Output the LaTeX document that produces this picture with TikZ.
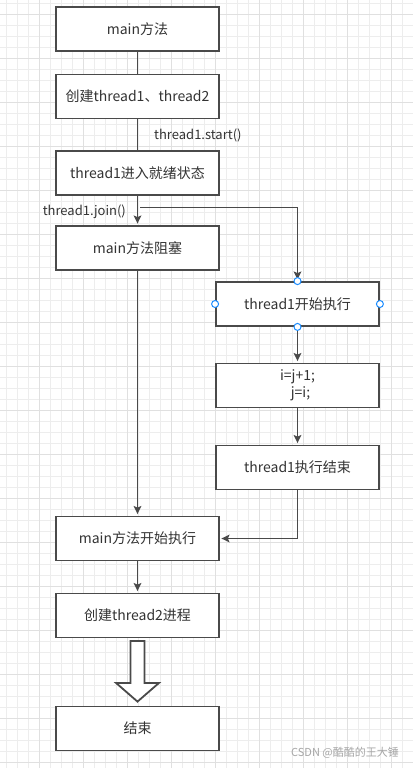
\documentclass[tikz,border=0pt]{standalone}
\usepackage{fontspec}
\setmainfont{Noto Sans CJK SC}
\usetikzlibrary{positioning,arrows.meta,calc}
\definecolor{linegray}{HTML}{4A4A4A}
\definecolor{textgray}{HTML}{333333}
\definecolor{handleblue}{HTML}{1A8CFF}
\tikzstyle{grid_minor}=[draw=black!7, line width=0.6pt]
\tikzstyle{grid_major}=[draw=black!12, line width=0.8pt]
\tikzstyle{step_box}=[rectangle, draw=linegray, line width=1.8pt, fill=white, minimum width=163pt, minimum height=44pt, inner sep=2pt, text=textgray, font=\fontsize{14}{17}\selectfont]
\tikzstyle{link}=[draw=linegray, line width=1.8pt]
\tikzstyle{flow}=[link, -{Stealth[length=8pt,width=7.5pt,inset=1.5pt]}, shorten >=1.5pt]
\tikzstyle{call_label}=[text=textgray, inner sep=0pt, font=\fontsize{13}{15}\selectfont]
\tikzstyle{handle}=[circle, draw=handleblue, fill=white, line width=1pt, inner sep=0pt, minimum size=7pt]

\begin{document}
\begin{tikzpicture}[%
    x=1pt,
    y=-1pt
  ]
      \useasboundingbox (0,0) rectangle (413,768);
      %Grid
      \fill[white] (0,0) rectangle (413,768);
      \foreach \gx in {6.5,17.5,...,413} \draw[grid_minor] (\gx,0) -- (\gx,768);
      \foreach \gy in {3,14,...,768} \draw[grid_minor] (0,\gy) -- (413,\gy);
      \foreach \gx in {39.5,83.5,...,413} \draw[grid_major] (\gx,0) -- (\gx,768);
      \foreach \gy in {14,58,...,768} \draw[grid_major] (0,\gy) -- (413,\gy);

      %main thread
      \draw (137.5,29) node[step_box] (main) {main方法};
      \draw (137.5,96.5) node[step_box] (create) {创建thread1、thread2};
      \draw (137.5,173) node[step_box] (ready) {thread1进入就绪状态};
      \draw (137.5,248) node[step_box] (block) {main方法阻塞};

      %thread1
      \draw (297.5,304) node[step_box] (run1) {thread1开始执行};
      \draw (297.5,385.5) node[step_box, align=center] (calc) {i=j+1;\\\hspace*{6pt}j=i;};
      \draw (297.5,467.5) node[step_box] (end1) {thread1执行结束};

      %main again
      \draw (137.5,538.5) node[step_box] (resume) {main方法开始执行};
      \draw (137.5,615.5) node[step_box] (create2) {创建thread2进程};
      \draw (137.5,728.5) node[step_box] (finish) {结束};

      %Labels
      \node[call_label, anchor=west] (startlbl) at (154,135) {thread1.start()};
      \node[call_label, anchor=east] (joinlbl) at (126,212) {thread1.join()};

      %Connectors
      \coordinate (fork) at (140,207.5);
      \draw[link] (main) -- (create);
      \draw[link] (create) -- (ready);
      \draw[flow] (ready) -- (block);
      \draw[flow] (fork) -| (run1.north);
      \draw[flow] (run1) -- (calc);
      \draw[flow] (calc) -- (end1);
      \draw[flow] (block) -- (resume);
      \draw[flow] (end1.south) |- (resume.east);
      \draw[flow] (resume) -- (create2);

      %Hollow arrow
      \draw[link, fill=white, line join=miter]
        ($(create2.south)+(-7,2.5)$) -- ($(create2.south)+(7,2.5)$)
        -- ($(create2.south)+(7,44.5)$) -- ($(create2.south)+(21.5,44.5)$)
        -- ($(finish.north)+(0,-4)$) -- ($(create2.south)+(-21.5,44.5)$)
        -- ($(create2.south)+(-7,44.5)$) -- cycle;

      %Selection handles
      \foreach \a in {north,south,east,west}
        \node[handle] (h-\a) at (run1.\a) {};

      %Watermark
      \node[text=black!35, inner sep=0pt, font=\fontsize{11}{13}\selectfont] (mark) at (345,753) {CSDN @酷酷的王大锤};
\end{tikzpicture}
\end{document}
